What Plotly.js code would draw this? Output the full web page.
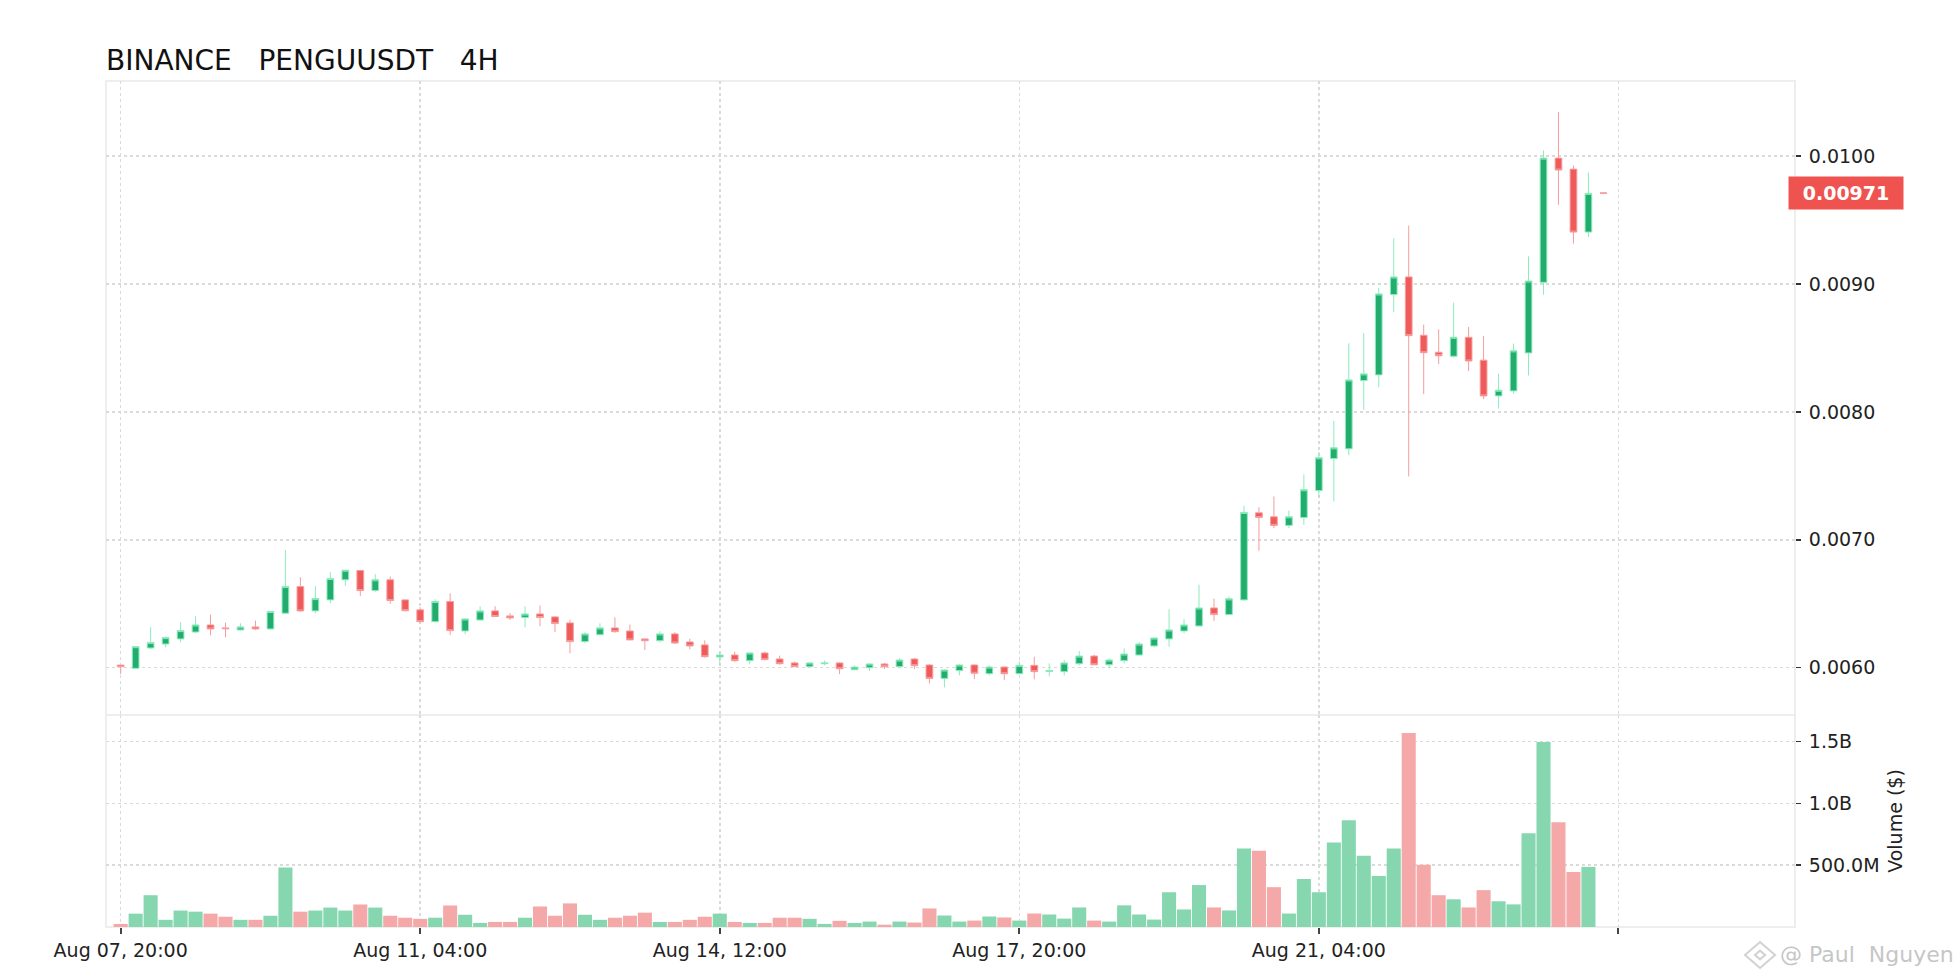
<!DOCTYPE html>
<html>
<head>
<meta charset="utf-8">
<script src="https://cdn.plot.ly/plotly-3.0.1.min.js"></script>
<style>
  html, body { margin: 0; padding: 0; background: #fff; }
  #chart { width: 1960px; height: 980px; }
</style>
</head>
<body>
<div id="chart"></div>
<script>
// 4H candles, first one opens Aug 07 20:00
var startTime = Date.UTC(2025, 7, 7, 20, 0);
var stepHours = 4;

var openPx = [
  0.006020, 0.005995, 0.006154, 0.006185, 0.006225, 0.006279, 0.006334, 0.006311, 0.006295, 0.006319,
  0.006303, 0.006426, 0.006634, 0.006444, 0.006530, 0.006687, 0.006760, 0.006603, 0.006687, 0.006530,
  0.006452, 0.006360, 0.006517, 0.006287, 0.006373, 0.006444, 0.006405, 0.006392, 0.006420, 0.006397,
  0.006350, 0.006204, 0.006258, 0.006311, 0.006287, 0.006225, 0.006211, 0.006264, 0.006201, 0.006178,
  0.006084, 0.006099, 0.006055, 0.006115, 0.006068, 0.006037, 0.006008, 0.006031, 0.006037, 0.005984,
  0.006000, 0.006029, 0.006008, 0.006068, 0.006021, 0.005916, 0.005977, 0.006021, 0.005953, 0.006005,
  0.005953, 0.006018, 0.005971, 0.005969, 0.006031, 0.006091, 0.006023, 0.006055, 0.006099, 0.006170,
  0.006225, 0.006287, 0.006326, 0.006467, 0.006415, 0.006530, 0.007211, 0.007180, 0.007112, 0.007174,
  0.007385, 0.007635, 0.007711, 0.008245, 0.008289, 0.008917, 0.009055, 0.008599, 0.008466, 0.008435,
  0.008583, 0.008404, 0.008125, 0.008164, 0.008461, 0.009013, 0.009984, 0.009898, 0.009406, 0.009712
];
var highPx = [
  0.006023, 0.006167, 0.006316, 0.006243, 0.006355, 0.006402, 0.006415, 0.006352, 0.006347, 0.006368,
  0.006441, 0.006919, 0.006708, 0.006637, 0.006747, 0.006765, 0.006765, 0.006731, 0.006713, 0.006533,
  0.006473, 0.006535, 0.006582, 0.006384, 0.006480, 0.006480, 0.006426, 0.006480, 0.006486, 0.006405,
  0.006373, 0.006277, 0.006347, 0.006394, 0.006337, 0.006227, 0.006285, 0.006277, 0.006227, 0.006214,
  0.006125, 0.006125, 0.006117, 0.006125, 0.006094, 0.006047, 0.006042, 0.006057, 0.006044, 0.006018,
  0.006034, 0.006037, 0.006073, 0.006076, 0.006029, 0.005987, 0.006026, 0.006026, 0.006018, 0.006008,
  0.006050, 0.006086, 0.006034, 0.006060, 0.006131, 0.006102, 0.006073, 0.006151, 0.006201, 0.006235,
  0.006457, 0.006379, 0.006648, 0.006540, 0.006556, 0.007266, 0.007255, 0.007339, 0.007229, 0.007510,
  0.007685, 0.007930, 0.008536, 0.008615, 0.008971, 0.009357, 0.009456, 0.008682, 0.008645, 0.008854,
  0.008664, 0.008594, 0.008299, 0.008534, 0.009216, 0.010044, 0.010344, 0.009927, 0.009872, 0.009716
];
var lowPx = [
  0.005950, 0.005995, 0.006144, 0.006159, 0.006198, 0.006269, 0.006253, 0.006238, 0.006290, 0.006295,
  0.006295, 0.006423, 0.006436, 0.006426, 0.006504, 0.006640, 0.006561, 0.006593, 0.006499, 0.006439,
  0.006352, 0.006352, 0.006256, 0.006261, 0.006366, 0.006398, 0.006373, 0.006316, 0.006326, 0.006279,
  0.006112, 0.006191, 0.006253, 0.006272, 0.006215, 0.006138, 0.006198, 0.006185, 0.006144, 0.006078,
  0.006021, 0.006044, 0.006026, 0.006058, 0.006023, 0.006005, 0.006003, 0.006018, 0.005950, 0.005982,
  0.005974, 0.005990, 0.006000, 0.005990, 0.005877, 0.005846, 0.005940, 0.005911, 0.005940, 0.005903,
  0.005948, 0.005909, 0.005932, 0.005940, 0.006018, 0.006021, 0.005995, 0.006034, 0.006094, 0.006159,
  0.006164, 0.006269, 0.006323, 0.006366, 0.006412, 0.006525, 0.006914, 0.007091, 0.007091, 0.007117,
  0.007333, 0.007300, 0.007661, 0.008016, 0.008193, 0.008779, 0.007495, 0.008138, 0.008373, 0.008424,
  0.008318, 0.008099, 0.008026, 0.008143, 0.008284, 0.008917, 0.009620, 0.009315, 0.009367, 0.009703
];
var closePx = [
  0.006008, 0.006164, 0.006196, 0.006235, 0.006290, 0.006334, 0.006303, 0.006305, 0.006319, 0.006303,
  0.006439, 0.006634, 0.006444, 0.006540, 0.006697, 0.006762, 0.006603, 0.006687, 0.006525, 0.006446,
  0.006360, 0.006517, 0.006290, 0.006381, 0.006444, 0.006400, 0.006389, 0.006420, 0.006392, 0.006345,
  0.006204, 0.006264, 0.006311, 0.006282, 0.006217, 0.006211, 0.006264, 0.006193, 0.006170, 0.006086,
  0.006099, 0.006055, 0.006115, 0.006063, 0.006031, 0.006008, 0.006037, 0.006037, 0.005992, 0.006005,
  0.006029, 0.006008, 0.006060, 0.006016, 0.005916, 0.005982, 0.006021, 0.005956, 0.006005, 0.005953,
  0.006018, 0.005969, 0.005977, 0.006037, 0.006091, 0.006023, 0.006060, 0.006107, 0.006185, 0.006232,
  0.006295, 0.006334, 0.006467, 0.006415, 0.006538, 0.007214, 0.007174, 0.007112, 0.007180, 0.007391,
  0.007641, 0.007719, 0.008250, 0.008297, 0.008922, 0.009055, 0.008596, 0.008463, 0.008439, 0.008583,
  0.008398, 0.008125, 0.008169, 0.008477, 0.009023, 0.009984, 0.009891, 0.009406, 0.009708, 0.009710
];
// volume in millions of $
var volumeM = [
  25, 108, 257, 58, 133, 124, 108, 83, 58, 58,
  91, 481, 124, 133, 157, 133, 182, 157, 91, 75,
  66, 75, 174, 99, 33, 41, 41, 75, 166, 91,
  191, 99, 58, 75, 91, 116, 41, 41, 58, 83,
  108, 41, 33, 33, 75, 75, 66, 25, 50, 33,
  44, 19, 44, 36, 150, 93, 44, 52, 85, 77,
  52, 109, 101, 68, 158, 52, 44, 175, 101, 60,
  281, 142, 339, 158, 134, 634, 617, 322, 109, 388,
  281, 683, 863, 577, 413, 634, 1568, 503, 257, 224,
  158, 298, 208, 183, 757, 1495, 847, 445, 486, 0
];

var xTickVals = ['2025-08-07 20:00', '2025-08-11 04:00', '2025-08-14 12:00',
                 '2025-08-17 20:00', '2025-08-21 04:00', '2025-08-24 12:00'];
var xTickText = ['Aug 07, 20:00', 'Aug 11, 04:00', 'Aug 14, 12:00',
                 'Aug 17, 20:00', 'Aug 21, 04:00', ''];
var priceTicks = [0.006, 0.007, 0.008, 0.009, 0.010];
var volTickVals = [5e8, 1e9, 1.5e9];
var volTickText = ['500.0M', '1.0B', '1.5B'];
var lastPrice = 0.00971;

var GREEN = '#22ac6d', GREEN_WICK = '#8cecbd', RED = '#ef5b5b', RED_WICK = '#f79c9c';
var GREEN_VOL = '#86d7b0', RED_VOL = '#f5a8a8';
var GRID = '#dadada', FRAME = '#eeeeee', FONT = 'DejaVu Sans';
var TICK_SIZE = 19;

function stamp(i) {
    var d = new Date(startTime + i * stepHours * 3600e3);
    return d.toISOString().slice(0, 16).replace('T', ' ');
}

var times = [], volume = [], volColors = [];
for (var i = 0; i < openPx.length; i++) {
    times.push(stamp(i));
    volume.push(volumeM[i] * 1e6);
    volColors.push(closePx[i] >= openPx[i] ? GREEN_VOL : RED_VOL);
}

var candles = {
    type: 'candlestick',
    x: times, open: openPx, high: highPx, low: lowPx, close: closePx,
    xaxis: 'x', yaxis: 'y',
    increasing: { fillcolor: GREEN, line: { color: GREEN_WICK, width: 1 } },
    decreasing: { fillcolor: RED, line: { color: RED_WICK, width: 1 } },
    whiskerwidth: 0,
    hoverinfo: 'skip',
    showlegend: false
};

var volBars = {
    type: 'bar',
    x: times, y: volume,
    xaxis: 'x', yaxis: 'y2',
    marker: { color: volColors, line: { width: 0 } },
    hoverinfo: 'skip',
    showlegend: false
};

var split = (927 - 715) / 846;

var layout = {
    width: 1960, height: 980,
    margin: { l: 106, r: 165, t: 81, b: 53 },
    paper_bgcolor: '#fff', plot_bgcolor: '#fff',
    font: { family: FONT, size: TICK_SIZE, color: '#222' },
    showlegend: false,
    hovermode: false,
    bargap: 0.06,
    boxgap: 0.36,
    title: {
        text: 'BINANCE\u00a0\u00a0\u00a0PENGUUSDT\u00a0\u00a0\u00a04H',
        font: { family: FONT, size: 28, color: '#111' },
        xref: 'paper', x: 0, xanchor: 'left',
        yref: 'container', y: 1 - 60 / 980, yanchor: 'middle'
    },
    xaxis: {
        type: 'date',
        anchor: 'y2',
        range: ['2025-08-07 16:05', '2025-08-26 11:10'],
        rangeslider: { visible: false },
        tickmode: 'array', tickvals: xTickVals, ticktext: xTickText,
        ticks: 'outside', ticklen: 6, tickwidth: 2, tickcolor: '#444',
        tickfont: { size: TICK_SIZE, color: '#222' },
        showgrid: true, gridcolor: GRID, gridwidth: 1.5, griddash: 'dot',
        showline: false, zeroline: false, fixedrange: true
    },
    yaxis: {
        domain: [split, 1],
        anchor: 'x', side: 'right',
        range: [0.00563, 0.010587],
        tickmode: 'array', tickvals: priceTicks, tickformat: '.4f',
        ticks: 'outside', ticklen: 5, tickwidth: 1.5, tickcolor: '#333',
        ticklabelstandoff: 4,
        tickfont: { size: TICK_SIZE, color: '#222' },
        showgrid: true, gridcolor: GRID, gridwidth: 1.5, griddash: 'dot',
        zeroline: false, showline: false, fixedrange: true
    },
    yaxis2: {
        domain: [0, split],
        anchor: 'x', side: 'right',
        range: [0, 1.714e9],
        tickmode: 'array', tickvals: volTickVals, ticktext: volTickText,
        ticks: 'outside', ticklen: 5, tickwidth: 1.5, tickcolor: '#333',
        ticklabelstandoff: 4,
        tickfont: { size: TICK_SIZE, color: '#222' },
        showgrid: true, gridcolor: GRID, gridwidth: 1.5, griddash: 'dot',
        zeroline: false, showline: false, fixedrange: true,
        title: { text: 'Volume ($)', font: { size: 19, color: '#222' }, standoff: 10 }
    },
    shapes: [
        // outer frame and pane separator
        { type: 'rect', xref: 'paper', yref: 'paper', x0: 0, x1: 1, y0: 0, y1: 1,
          line: { color: FRAME, width: 2 }, layer: 'below' },
        { type: 'line', xref: 'paper', yref: 'paper', x0: 0, x1: 1, y0: split, y1: split,
          line: { color: FRAME, width: 2 }, layer: 'below' },
        // watermark logo
        { type: 'path', xref: 'paper', yref: 'paper', layer: 'above',
          path: 'M 0.9704 -0.0331 L 0.9793 -0.0177 L 0.9882 -0.0331 L 0.9793 -0.0485 Z',
          line: { color: '#d2d2d2', width: 2 } },
        { type: 'path', xref: 'paper', yref: 'paper', layer: 'above',
          path: 'M 0.9763 -0.0331 L 0.9793 -0.0280 L 0.9823 -0.0331 L 0.9793 -0.0382 Z',
          line: { color: '#d2d2d2', width: 2 } }
    ],
    annotations: [
        {
            xref: 'paper', x: 1, xanchor: 'left', xshift: -7,
            yref: 'y', y: lastPrice, yanchor: 'middle',
            text: '<b>' + lastPrice.toFixed(5) + '</b>',
            showarrow: false,
            font: { family: FONT, size: 19, color: '#fff' },
            bgcolor: '#ef5350', width: 110, height: 28, borderpad: 2
        },
        {
            xref: 'paper', x: (1778 - 106) / 1689, xanchor: 'left',
            yref: 'paper', y: -0.033, yanchor: 'middle',
            text: '@ Paul\u00a0\u00a0Nguyen',
            showarrow: false,
            font: { family: FONT, size: 22, color: '#c6c6c6' }
        }
    ]
};

Plotly.newPlot('chart', [volBars, candles], layout, { displayModeBar: false, staticPlot: true });
</script>
</body>
</html>
